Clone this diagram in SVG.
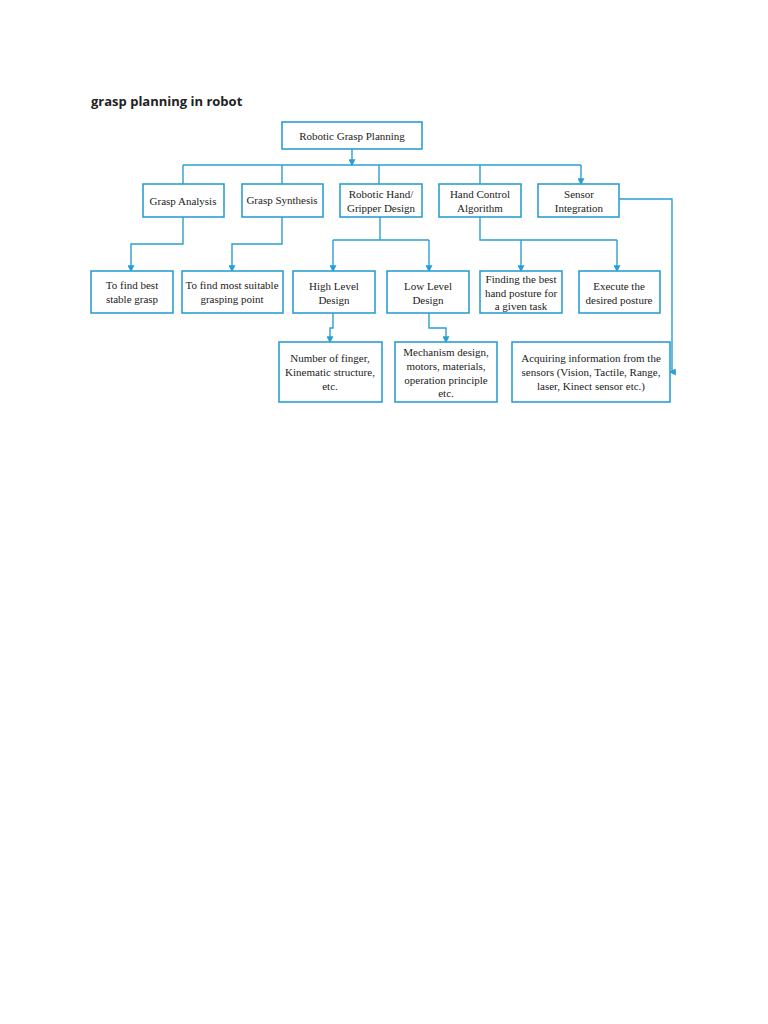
<svg xmlns="http://www.w3.org/2000/svg" width="768" height="1024" viewBox="0 0 768 1024">
<style>
.b{fill:#fff;stroke:#2b9fd1;stroke-width:1.6}
.t{font-family:"Liberation Serif",serif;font-size:11px;fill:#222;text-anchor:middle}
.c{fill:none;stroke:#2b9fd1;stroke-width:1.4}
</style>
<defs><marker id="a" viewBox="0 0 6 6" refX="5" refY="3" markerWidth="5" markerHeight="5" orient="auto"><path d="M0,0L6,3L0,6z" fill="#2b9fd1"/></marker></defs>
<rect width="768" height="1024" fill="#fff"/>
<text x="91" y="106" font-family="Open Sans,sans-serif" font-weight="bold" font-size="13" fill="#222">grasp planning in robot</text>
<g id="connectors" class="c">
<path d="M352,149V165" marker-end="url(#a)"/>
<path d="M183,165H581"/>
<path d="M183,165V184M282,165V184M379,165V184M480,165V184M581,165V184" marker-end="url(#a)"/>
<path d="M183,217V244H131V271" marker-end="url(#a)"/>
<path d="M282,217V244H232V271" marker-end="url(#a)"/>
<path d="M380,217V240"/><path d="M333,240H429"/>
<path d="M333,240V271" marker-end="url(#a)"/><path d="M429,240V271" marker-end="url(#a)"/>
<path d="M480,217V240H617"/>
<path d="M521,240V271" marker-end="url(#a)"/><path d="M617,240V271" marker-end="url(#a)"/>
<path d="M333,313V328H330V342" marker-end="url(#a)"/>
<path d="M429,313V328H446V342" marker-end="url(#a)"/>
<path d="M619,199H672V372H670" marker-end="url(#a)"/>
</g>
<g id="root"><rect class="b" x="282" y="122" width="140" height="27"/><text class="t" x="352" y="140">Robotic Grasp Planning</text></g>
<g id="ga"><rect class="b" x="143" y="184" width="81" height="33"/><text class="t" x="183" y="205">Grasp Analysis</text></g>
<g id="gs"><rect class="b" x="242" y="184" width="81" height="33"/><text class="t" x="282" y="204">Grasp Synthesis</text></g>
<g id="rh"><rect class="b" x="340" y="184" width="82" height="33"/><text class="t" x="381" y="198">Robotic Hand/</text><text class="t" x="381" y="212">Gripper Design</text></g>
<g id="hc"><rect class="b" x="439" y="184" width="82" height="33"/><text class="t" x="480" y="198">Hand Control</text><text class="t" x="480" y="212">Algorithm</text></g>
<g id="si"><rect class="b" x="538" y="184" width="81" height="33"/><text class="t" x="579" y="198">Sensor</text><text class="t" x="579" y="212">Integration</text></g>
<g id="fb"><rect class="b" x="91" y="271" width="82" height="42"/><text class="t" x="132" y="289">To find best</text><text class="t" x="132" y="303">stable grasp</text></g>
<g id="fm"><rect class="b" x="182" y="271" width="101" height="42"/><text class="t" x="232" y="289">To find most suitable</text><text class="t" x="232" y="303">grasping point</text></g>
<g id="hl"><rect class="b" x="293" y="271" width="82" height="42"/><text class="t" x="334" y="290">High Level</text><text class="t" x="334" y="304">Design</text></g>
<g id="ll"><rect class="b" x="387" y="271" width="82" height="42"/><text class="t" x="428" y="290">Low  Level</text><text class="t" x="428" y="304">Design</text></g>
<g id="fh"><rect class="b" x="480" y="271" width="82" height="42"/><text class="t" x="521" y="283">Finding the best</text><text class="t" x="521" y="297">hand posture for</text><text class="t" x="521" y="310">a given task</text></g>
<g id="ex"><rect class="b" x="579" y="271" width="81" height="42"/><text class="t" x="619" y="290">Execute the</text><text class="t" x="619" y="304">desired posture</text></g>
<g id="nf"><rect class="b" x="279" y="342" width="103" height="60"/><text class="t" x="330" y="362">Number of finger,</text><text class="t" x="330" y="376">Kinematic structure,</text><text class="t" x="330" y="390">etc.</text></g>
<g id="md"><rect class="b" x="395" y="342" width="102" height="60"/><text class="t" x="446" y="356">Mechanism design,</text><text class="t" x="446" y="370">motors, materials,</text><text class="t" x="446" y="384">operation principle</text><text class="t" x="446" y="397">etc.</text></g>
<g id="ai"><rect class="b" x="512" y="342" width="158" height="60"/><text class="t" x="591" y="362">Acquiring information from the</text><text class="t" x="591" y="376">sensors (Vision, Tactile, Range,</text><text class="t" x="591" y="390">laser, Kinect sensor etc.)</text></g>
</svg>
